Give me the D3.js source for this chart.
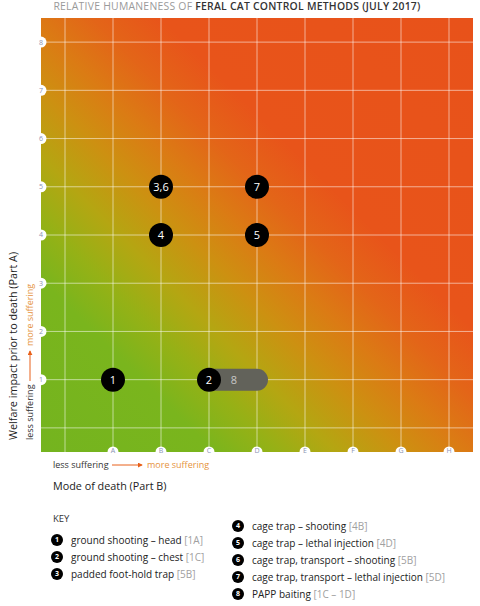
<!DOCTYPE html>
<html>
<head>
<meta charset="utf-8">
<script src="https://cdn.jsdelivr.net/npm/d3@7"></script>
<style>
  body { margin: 0; background: #fff; }
  svg { font-family: "Open Sans", sans-serif; }
</style>
</head>
<body>
<div id="chart"></div>
<script>
// chart data
var xTicks = ['A', 'B', 'C', 'D', 'E', 'F', 'G', 'H'];
var yTicks = [1, 2, 3, 4, 5, 6, 7, 8];
var pointLabels = ['1', '2', '3,6', '4', '5', '7'];
var pointX = [1, 3, 2, 2, 4, 4];
var pointY = [1, 1, 5, 4, 4, 5];
var rangeLabel = '8';
var rangeX = [3, 4];
var rangeY = 1;
var keyNums = ['1', '2', '3', '4', '5', '6', '7', '8'];
var keyNames = ['ground shooting – head', 'ground shooting – chest', 'padded foot-hold trap',
  'cage trap – shooting', 'cage trap – lethal injection', 'cage trap, transport – shooting',
  'cage trap, transport – lethal injection', 'PAPP baiting'];
var keyCodes = ['[1A]', '[1C]', '[5B]', '[4B]', '[4D]', '[5B]', '[5D]', '[1C – 1D]'];

var width = 480, height = 606;
var margin = { top: 18, right: 7, bottom: 154, left: 41 };
var innerW = width - margin.left - margin.right;
var innerH = height - margin.top - margin.bottom;

var svg = d3.select('#chart').append('svg')
  .attr('width', width)
  .attr('height', height);

var x = d3.scaleLinear().domain([-0.5, 8.5]).range([margin.left, margin.left + innerW]);
var y = d3.scaleLinear().domain([-0.5, 8.5]).range([margin.top + innerH, margin.top]);

// background gradient, green (bottom left) to orange (top right)
var defs = svg.append('defs');
var grad = defs.append('linearGradient')
  .attr('id', 'bg-grad')
  .attr('gradientUnits', 'userSpaceOnUse')
  .attr('x1', x(-0.5)).attr('y1', y(-0.5))
  .attr('x2', x(8.5)).attr('y2', y(8.5));
var stops = [[0, '#74b41f'], [0.2, '#7ab51d'], [0.27, '#95b116'], [0.34, '#b4a612'],
  [0.42, '#cd9011'], [0.49, '#db7b14'], [0.56, '#e36518'], [0.64, '#e8541a'], [1, '#e8521a']];
grad.selectAll('stop').data(stops).enter().append('stop')
  .attr('offset', d => d[0])
  .attr('stop-color', d => d[1]);

svg.append('rect')
  .attr('x', x(-0.5)).attr('y', y(8.5))
  .attr('width', innerW).attr('height', innerH)
  .attr('fill', 'url(#bg-grad)');

// grid
var g = svg.append('g');
g.selectAll('.vline').data(d3.range(0, 9)).enter().append('line')
  .attr('x1', d => x(d)).attr('x2', d => x(d))
  .attr('y1', y(-0.5)).attr('y2', y(8.5))
  .attr('stroke', 'rgba(255,255,255,0.6)').attr('stroke-width', 0.9);
g.selectAll('.hline').data(d3.range(0, 9)).enter().append('line')
  .attr('y1', d => y(d)).attr('y2', d => y(d))
  .attr('x1', x(-0.5)).attr('x2', x(8.5))
  .attr('stroke', 'rgba(255,255,255,0.6)').attr('stroke-width', 0.9);

// tick labels in little white bubbles
var yt = svg.append('g');
yt.selectAll('circle').data(yTicks).enter().append('circle')
  .attr('cx', x(-0.5)).attr('cy', d => y(d)).attr('r', 5.5).attr('fill', '#fff');
yt.selectAll('text').data(yTicks).enter().append('text')
  .attr('x', x(-0.5)).attr('y', d => y(d)).attr('dy', '0.35em')
  .attr('text-anchor', 'middle').attr('font-size', 7).attr('fill', '#8a93b3')
  .text(d => d);

var xt = svg.append('g');
xt.selectAll('circle').data(xTicks).enter().append('circle')
  .attr('cx', (d, i) => x(i + 1)).attr('cy', y(-0.5)).attr('r', 5.5).attr('fill', '#fff');
xt.selectAll('text').data(xTicks).enter().append('text')
  .attr('x', (d, i) => x(i + 1)).attr('y', y(-0.5)).attr('dy', '0.1em')
  .attr('text-anchor', 'middle').attr('font-size', 7).attr('fill', '#8a93b3')
  .text(d => d);

// PAPP baiting range bar
svg.append('rect')
  .attr('x', x(rangeX[0]) - 11).attr('y', y(rangeY) - 11)
  .attr('width', x(rangeX[1]) - x(rangeX[0]) + 22).attr('height', 22)
  .attr('rx', 11).attr('fill', '#62625a');
svg.append('text')
  .attr('x', (x(rangeX[0]) + x(rangeX[1])) / 2 + 1).attr('y', y(rangeY)).attr('dy', '0.35em')
  .attr('text-anchor', 'middle').attr('font-size', 11).attr('fill', '#c8c8c8')
  .text(rangeLabel);

// method markers
var pts = svg.append('g').selectAll('g').data(pointLabels).enter().append('g')
  .attr('transform', (d, i) => `translate(${x(pointX[i])},${y(pointY[i])})`);
pts.append('circle').attr('r', 12).attr('fill', '#000');
pts.append('text').attr('dy', '0.36em').attr('text-anchor', 'middle')
  .attr('font-size', 11).attr('fill', '#fff').text(d => d);

// title
var title = svg.append('text').attr('x', 237).attr('y', 10)
  .attr('text-anchor', 'middle').attr('font-size', 10.4).attr('letter-spacing', 0.25);
title.append('tspan').attr('fill', '#9a9a9a').text('RELATIVE HUMANENESS OF ');
title.append('tspan').attr('fill', '#333').attr('font-weight', 600).text('FERAL CAT CONTROL METHODS (JULY 2017)');

// arrow marker
defs.append('marker').attr('id', 'arr').attr('viewBox', '0 0 6 6')
  .attr('refX', 5).attr('refY', 3).attr('markerWidth', 5).attr('markerHeight', 5)
  .attr('orient', 'auto')
  .append('path').attr('d', 'M0,0L6,3L0,6Z').attr('fill', '#e8601a');

// x axis titles
svg.append('text').attr('x', 53).attr('y', 468).attr('font-size', 9).attr('fill', '#333').text('less suffering');
svg.append('line').attr('x1', 112).attr('x2', 142).attr('y1', 465).attr('y2', 465)
  .attr('stroke', '#e8601a').attr('stroke-width', 1).attr('marker-end', 'url(#arr)');
svg.append('text').attr('x', 147).attr('y', 468).attr('font-size', 9).attr('fill', '#e59340').text('more suffering');
svg.append('text').attr('x', 53).attr('y', 490).attr('font-size', 10.8).attr('fill', '#222').text('Mode of death (Part B)');

// y axis titles
var yl = svg.append('g').attr('transform', 'rotate(-90)');
yl.append('text').attr('x', -440).attr('y', 17).attr('font-size', 10.8).attr('fill', '#222')
  .text('Welfare impact prior to death (Part A)');
yl.append('text').attr('x', -440).attr('y', 33).attr('font-size', 9).attr('fill', '#333').text('less suffering');
yl.append('line').attr('x1', -381).attr('x2', -351).attr('y1', 30).attr('y2', 30)
  .attr('stroke', '#e8601a').attr('stroke-width', 1).attr('marker-end', 'url(#arr)');
yl.append('text').attr('x', -346).attr('y', 33).attr('font-size', 9).attr('fill', '#e59340').text('more suffering');

// key
svg.append('text').attr('x', 53).attr('y', 522).attr('font-size', 9.5).attr('fill', '#333').text('KEY');
var keyPos = keyNums.map((d, i) => i < 3 ? [57, 540 + i * 17] : [238, 526 + (i - 3) * 17]);
var key = svg.append('g').selectAll('g').data(keyNums).enter().append('g')
  .attr('transform', (d, i) => `translate(${keyPos[i][0]},${keyPos[i][1]})`);
key.append('circle').attr('r', 6).attr('fill', '#000');
key.append('text').attr('dy', '0.35em').attr('text-anchor', 'middle')
  .attr('font-size', 7).attr('font-weight', 700).attr('fill', '#fff').text(d => d);
var kt = key.append('text').attr('x', 14).attr('dy', '0.35em').attr('font-size', 10);
kt.append('tspan').attr('fill', '#222').text((d, i) => keyNames[i] + ' ');
kt.append('tspan').attr('fill', '#a0a0a0').text((d, i) => keyCodes[i]);
</script>
</body>
</html>
